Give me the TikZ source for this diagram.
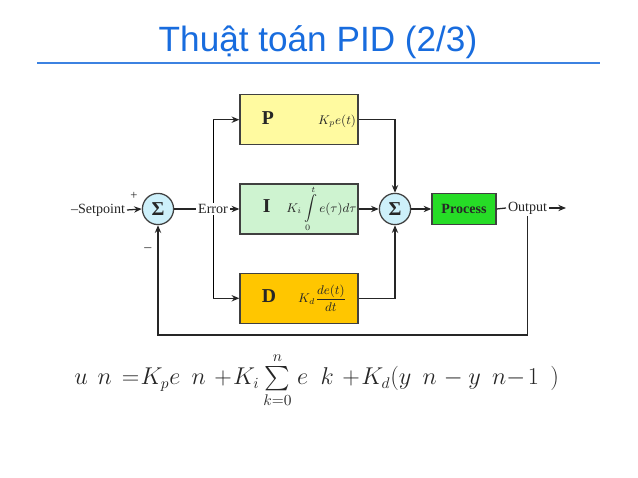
\documentclass[tikz,border=0pt]{standalone}
\usepackage{amsmath}
\usepackage{fontspec}
\setmainfont{Liberation Serif}
\newfontfamily\titlefont{Liberation Sans}
\usetikzlibrary{positioning, backgrounds, arrows.meta}

\begin{document}
\begin{tikzpicture}[x=0.025cm, y=-0.025cm, >={Stealth[length=5.5pt, width=4.5pt]}, line width=0.9pt, color=black!85,
  blk/.style={draw=black!75, minimum width=2.95cm, minimum height=1.25cm, inner sep=0pt},
  sum/.style={circle, draw=black!75, fill=sumcyan, minimum size=0.78cm, inner sep=0pt, font=\bfseries\fontsize{14}{16}\selectfont},
  lbl/.style={font=\normalsize, inner sep=1pt}]
  \definecolor{titleblue}{RGB}{24,108,222}
  \definecolor{ruleblue}{RGB}{60,130,225}
  \definecolor{pyellow}{RGB}{255,250,160}
  \definecolor{imint}{RGB}{206,243,208}
  \definecolor{dorange}{RGB}{255,198,0}
  \definecolor{sumcyan}{RGB}{205,240,250}
  \definecolor{procgreen}{RGB}{38,220,38}
  \useasboundingbox (0,0) rectangle (638,478);
  % title
  \node[text=titleblue, font=\titlefont\fontsize{25}{30}\selectfont, anchor=base] (title) at (318,52) {Thuật toán PID (2/3)};
  \draw[draw=ruleblue, line width=0.8pt] (37,63) -- (600,63);
  % blocks
  \node[blk, fill=imint] (I) at (299,209) {\makebox[2.95cm][l]{\hspace{0.57cm}{\fontsize{14}{16}\selectfont\bfseries I}\hspace{0.4cm}\small$K_i\displaystyle\int\limits_0^t e(\tau)d\tau$}};
  \node[blk, fill=pyellow, above=0.95cm of I] (P) {\makebox[2.95cm][l]{\hspace{0.55cm}{\fontsize{14}{16}\selectfont\bfseries P}\hspace{1.1cm}\small$K_pe(t)$}};
  \node[blk, fill=dorange, below=0.95cm of I] (D) {\makebox[2.95cm][l]{\hspace{0.55cm}{\fontsize{14}{16}\selectfont\bfseries D}\hspace{0.55cm}\small$K_d\dfrac{de(t)}{dt}$}};
  \node[sum] (s1) at (158,209) {Σ};
  \node[sum] (s2) at (395,209) {Σ};
  \node[draw=black!75, fill=procgreen, minimum width=1.6cm, minimum height=0.78cm, inner sep=0pt, font=\bfseries] (proc) at (464,209) {Process};
  % labels
  \node[lbl, anchor=east] (sp) at (127,210) {–Setpoint};
  \node[lbl, font=\small] (plus) at (134,196) {+};
  \node[lbl] (minus) at (148,250) {–};
  \node[lbl, fill=white] (err) at (213,209) {Error};
  \node[lbl, anchor=west] (out) at (506,208) {Output};
  \coordinate (yend) at (566,208);
  \coordinate (fb) at (527,335);
  % error branches
  \begin{scope}[on background layer]
    \draw (err |- P.west) -- (err |- D.west);
  \end{scope}
  \draw[->] (err |- P.west) -- (P.west);
  \draw[->] (err |- D.west) -- (D.west);
  \draw (s1.east) -- (err.west);
  \draw[->] (err.east) -- (I.west);
  \draw[->] (sp.east) -- (s1.west);
  % into second sum
  \draw[->] (P.east) -| (s2.north);
  \draw[->] (I.east) -- (s2.west);
  \draw[->] (D.east) -| (s2.south);
  \draw[->] (s2.east) -- (proc.west);
  \draw (proc.east) -- (out.west);
  \draw[->] (out.east) -- (yend);
  % feedback
  \draw[->] (out.south) -- (out.south |- fb) -| (s1.south);
  % discrete form
  \node[anchor=west] (eq) at (69,380) {\fontsize{16}{19}\selectfont
    $u\hspace{7pt}n\hspace{7pt}{=}\hspace{1pt}K_pe\hspace{8pt}n\hspace{6pt}{+}\hspace{1pt}K_i\sum\limits_{k=0}^{n}\hspace{1pt}e\hspace{9pt}k\hspace{6pt}{+}\hspace{1pt}K_d(y\hspace{8pt}n\hspace{5pt}{-}\hspace{4pt}y\hspace{8pt}n{-}\hspace{2pt}1\hspace{8pt})$};
\end{tikzpicture}
\end{document}
